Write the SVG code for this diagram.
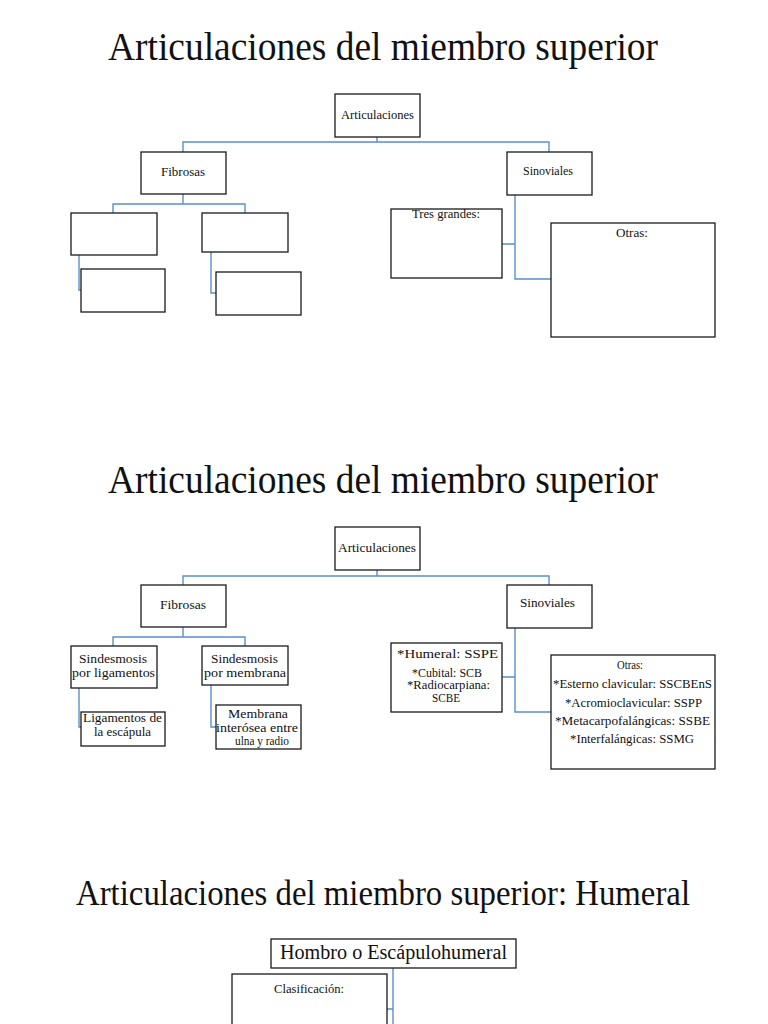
<svg xmlns="http://www.w3.org/2000/svg" width="768" height="1024" viewBox="0 0 768 1024">
<style>
text{font-family:"Liberation Serif","DejaVu Serif",serif;fill:#111;text-anchor:middle}
.title{font-size:40px}
.t3{font-size:36px}
.s{font-size:11.5px}
.r{font-size:12px}
.m{font-size:12.5px}
.h{font-size:20px}
rect{fill:#fff;stroke:#1a1a1a;stroke-width:1.3}
.c path{fill:none;stroke:#5b8fc9;stroke-width:1.4}
</style>
<rect x="0" y="0" width="768" height="1024" style="stroke:none"/>

<text class="title" x="383" y="60" textLength="550" lengthAdjust="spacingAndGlyphs">Articulaciones del miembro superior</text>
<text class="title" x="383" y="493" textLength="550" lengthAdjust="spacingAndGlyphs">Articulaciones del miembro superior</text>
<text class="t3" x="383" y="905" textLength="614" lengthAdjust="spacingAndGlyphs">Articulaciones del miembro superior: Humeral</text>

<g class="c" id="connectors">
<path d="M377 137V142M183 152V142H549V152"/>
<path d="M183 194V204M113 213V204H245V213"/>
<path d="M79 255V290H81"/>
<path d="M211 252V293H216"/>
<path d="M515 195V279H551M502 244H515"/>
<path d="M377 570V576M183 585V576H549V585"/>
<path d="M183 627V637M113 646V637H245V646"/>
<path d="M79 688V727H81"/>
<path d="M211 685V727H216"/>
<path d="M515 628V712H551M502 677H515"/>
<path d="M393 968V1024M387 1009H393"/>
</g>

<g id="s1-articulaciones"><rect x="335" y="94" width="85" height="43"/><text class="s" x="377.5" y="119" textLength="73" lengthAdjust="spacingAndGlyphs">Articulaciones</text></g>
<g id="s1-fibrosas"><rect x="141" y="152" width="85" height="42"/><text class="s" x="183" y="176" textLength="44" lengthAdjust="spacingAndGlyphs">Fibrosas</text></g>
<g id="s1-sinoviales"><rect x="507" y="152" width="85" height="43"/><text class="s" x="548" y="175" textLength="50" lengthAdjust="spacingAndGlyphs">Sinoviales</text></g>
<g id="s1-left1"><rect x="71" y="213" width="86" height="42"/></g>
<g id="s1-left2"><rect x="202" y="213" width="86" height="39"/></g>
<g id="s1-left1b"><rect x="81" y="269" width="84" height="43"/></g>
<g id="s1-left2b"><rect x="216" y="272" width="85" height="43"/></g>
<g id="s1-tres"><rect x="391" y="209" width="111" height="69"/><text class="s" x="446" y="218" textLength="68" lengthAdjust="spacingAndGlyphs">Tres grandes:</text></g>
<g id="s1-otras"><rect x="551" y="223" width="164" height="114"/><text class="s" x="632" y="237" textLength="32" lengthAdjust="spacingAndGlyphs">Otras:</text></g>

<g id="s2-articulaciones"><rect x="335" y="527" width="85" height="43"/><text class="r" x="377" y="552" textLength="78" lengthAdjust="spacingAndGlyphs">Articulaciones</text></g>
<g id="s2-fibrosas"><rect x="141" y="585" width="85" height="42"/><text class="r" x="183" y="609" textLength="46" lengthAdjust="spacingAndGlyphs">Fibrosas</text></g>
<g id="s2-sinoviales"><rect x="507" y="585" width="85" height="43"/><text class="r" x="547.5" y="607" textLength="55" lengthAdjust="spacingAndGlyphs">Sinoviales</text></g>
<g id="s2-sind-lig"><rect x="71" y="646" width="86" height="42"/><text class="m" x="113" y="663" textLength="68" lengthAdjust="spacingAndGlyphs">Sindesmosis</text><text class="m" x="113.5" y="677" textLength="83" lengthAdjust="spacingAndGlyphs">por ligamentos</text></g>
<g id="s2-sind-mem"><rect x="202" y="646" width="86" height="39"/><text class="m" x="244.5" y="663" textLength="67" lengthAdjust="spacingAndGlyphs">Sindesmosis</text><text class="m" x="245" y="677" textLength="82" lengthAdjust="spacingAndGlyphs">por membrana</text></g>
<g id="s2-ligamentos"><rect x="81" y="712" width="84" height="34"/><text class="m" x="122.5" y="722" textLength="79" lengthAdjust="spacingAndGlyphs">Ligamentos de</text><text class="m" x="122.5" y="736" textLength="57" lengthAdjust="spacingAndGlyphs">la escápula</text></g>
<g id="s2-membrana"><rect x="216" y="705" width="85" height="44"/><text class="m" x="258" y="718" textLength="60" lengthAdjust="spacingAndGlyphs">Membrana</text><text class="m" x="257" y="732" textLength="82" lengthAdjust="spacingAndGlyphs">interósea entre</text><text class="m" x="262" y="745" textLength="54" lengthAdjust="spacingAndGlyphs">ulna y radio</text></g>
<g id="s2-tres"><rect x="391" y="643" width="111" height="69"/><text x="447.5" y="658" style="font-size:13.5px" textLength="101" lengthAdjust="spacingAndGlyphs">*Humeral: SSPE</text><text class="r" x="447" y="677" textLength="70" lengthAdjust="spacingAndGlyphs">*Cubital: SCB</text><text class="r" x="448.5" y="689" textLength="83" lengthAdjust="spacingAndGlyphs">*Radiocarpiana:</text><text class="r" x="446" y="702" textLength="28" lengthAdjust="spacingAndGlyphs">SCBE</text></g>
<g id="s2-otras"><rect x="551" y="655" width="164" height="114"/><text class="r" x="630" y="669" textLength="26" lengthAdjust="spacingAndGlyphs">Otras:</text><text class="r" x="632.5" y="688" textLength="159" lengthAdjust="spacingAndGlyphs">*Esterno clavicular: SSCBEnS</text><text class="r" x="633.5" y="707" textLength="137" lengthAdjust="spacingAndGlyphs">*Acromioclavicular: SSPP</text><text class="r" x="632.5" y="725" textLength="155" lengthAdjust="spacingAndGlyphs">*Metacarpofalángicas: SSBE</text><text class="r" x="632" y="743" textLength="124" lengthAdjust="spacingAndGlyphs">*Interfalángicas: SSMG</text></g>

<g id="s3-hombro"><rect x="271" y="939" width="245" height="29"/><text class="h" x="393.5" y="959" textLength="227" lengthAdjust="spacingAndGlyphs">Hombro o Escápulohumeral</text></g>
<g id="s3-clasificacion"><rect x="232" y="974" width="155" height="60"/><text class="s" x="309" y="993" textLength="70" lengthAdjust="spacingAndGlyphs">Clasificación:</text></g>
</svg>
